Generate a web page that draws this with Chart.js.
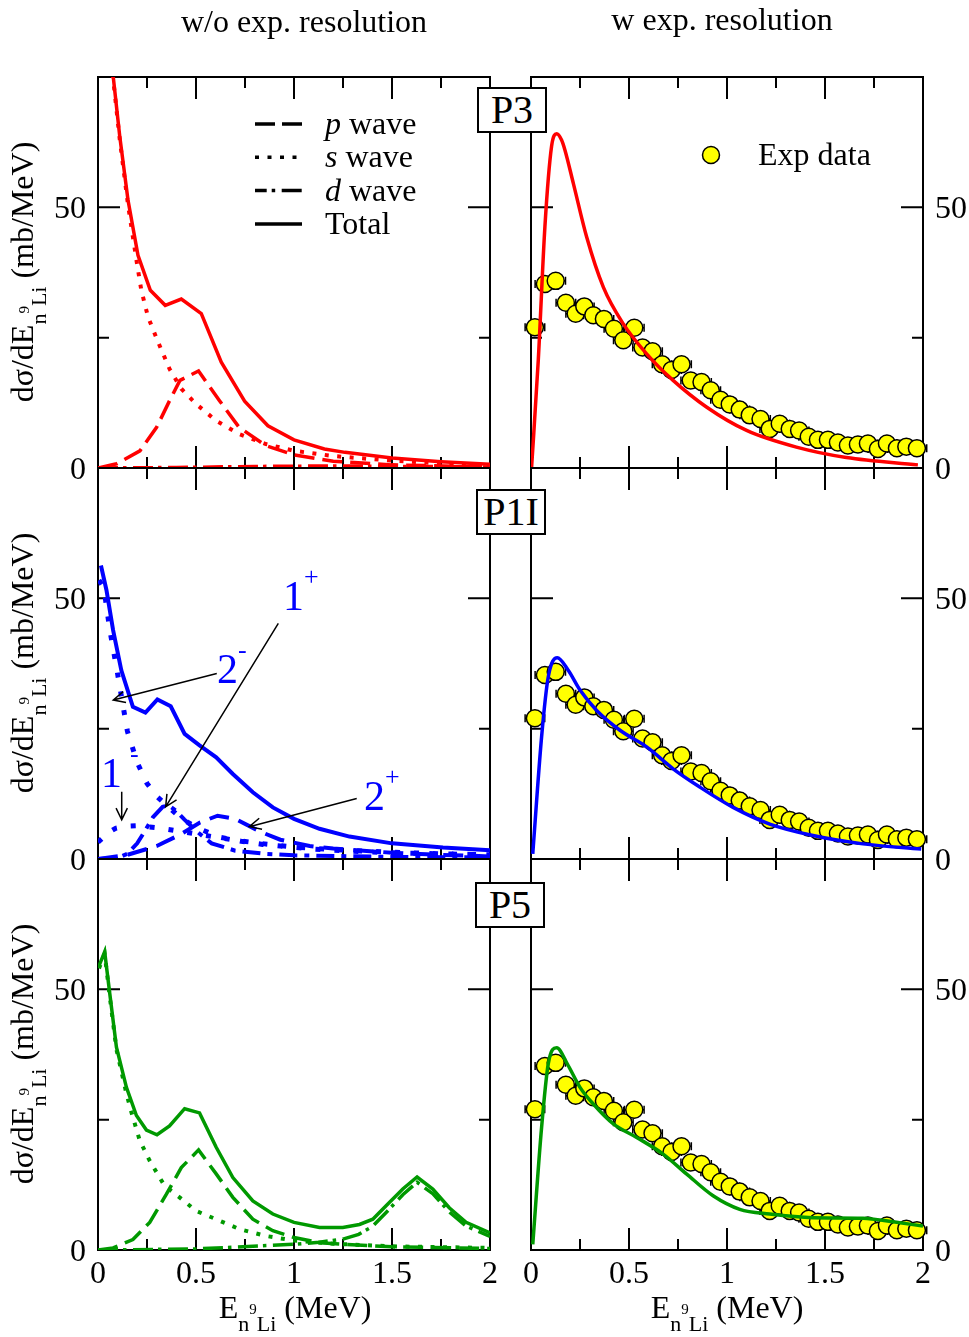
<!DOCTYPE html>
<html>
<head>
<meta charset="utf-8">
<title>n-9Li relative energy spectra</title>
<script src="https://cdn.jsdelivr.net/npm/chart.js@4.4.1/dist/chart.umd.min.js"></script>
<style>
  body { margin: 0; width: 969px; height: 1337px; background: #fff; position: relative; overflow: hidden; font-family: "Liberation Serif", "DejaVu Serif", serif; }
  canvas { position: absolute; z-index: 1; }
  .lab { position: absolute; z-index: 2; white-space: nowrap; line-height: 1; color: #000; }
  .head { font-size: 32px; transform: translateX(-50%); }
  .xtitle { font-size: 32px; transform: translateX(-50%); }
  .ytitle { font-size: 32px; transform: translate(-50%, -50%) rotate(-90deg); }
  .sb { font-size: 22px; position: relative; top: 13px; }
  .sp { font-size: 15px; position: relative; top: -17px; }
  .box { position: absolute; z-index: 3; box-sizing: border-box; border: 2px solid #000; background: #fff; font-size: 40px; line-height: 42px; text-align: center; }
  .state { font-size: 42px; color: #0000ff; }
  .state span { font-size: 26px; position: relative; top: -25px; }
</style>
</head>
<body>

<div class="lab head" style="left:304px;top:5px">w/o exp. resolution</div>
<div class="lab head" style="left:722px;top:3px">w exp. resolution</div>

<div class="lab ytitle" style="left:22px;top:272px">dσ/dE<span class="sb">n<span class="sp">9</span>Li</span> (mb/MeV)</div>
<div class="lab ytitle" style="left:22px;top:663px">dσ/dE<span class="sb">n<span class="sp">9</span>Li</span> (mb/MeV)</div>
<div class="lab ytitle" style="left:22px;top:1054px">dσ/dE<span class="sb">n<span class="sp">9</span>Li</span> (mb/MeV)</div>

<div class="lab xtitle" style="left:295px;top:1291px">E<span class="sb">n<span class="sp">9</span>Li</span> (MeV)</div>
<div class="lab xtitle" style="left:727px;top:1291px">E<span class="sb">n<span class="sp">9</span>Li</span> (MeV)</div>

<div class="box" style="left:477px;top:87px;width:70px;height:46px">P3</div>
<div class="box" style="left:476px;top:489px;width:70px;height:46px">P1I</div>
<div class="box" style="left:475px;top:882px;width:70px;height:46px">P5</div>

<div class="lab state" style="left:283px;top:575px">1<span>+</span></div>
<div class="lab state" style="left:217px;top:648px">2<span>-</span></div>
<div class="lab state" style="left:101px;top:752px">1<span style="margin-left:8px">-</span></div>
<div class="lab state" style="left:364px;top:775px">2<span>+</span></div>

<script>
var xMajor = [0, 0.5, 1, 1.5, 2];
var xMinor = [0.25, 0.75, 1.25, 1.75];
var xTickText = ["0", "0.5", "1", "1.5", "2"];
var yMajor = [0, 50];
var yMinor = [25];
var yTickText = ["0", "50"];

// P3, without experimental resolution
var p3TotX = [0.04, 0.111, 0.153, 0.204, 0.267, 0.343, 0.425, 0.527, 0.629, 0.748, 0.867, 1.0, 1.155, 1.26, 1.5, 1.75, 2.0];
var p3TotY = [88, 63.6, 51.4, 40.8, 34.1, 31.2, 32.4, 29.6, 20.3, 12.8, 8.1, 5.4, 3.65, 3.0, 1.9, 1.2, 0.7];
var p3SX = [0.04, 0.111, 0.153, 0.196, 0.221, 0.255, 0.306, 0.365, 0.425, 0.5, 0.602, 0.72, 0.856, 1.0, 1.2, 1.5, 1.75, 2.0];
var p3SY = [87.5, 63, 50.5, 39.9, 34.1, 29, 24.2, 19, 15.2, 12.3, 9.1, 6.5, 4.6, 3.3, 2.3, 1.4, 0.9, 0.5];
var p3PX = [0, 0.095, 0.214, 0.299, 0.365, 0.418, 0.513, 0.62, 0.72, 0.856, 1.0, 1.2, 1.5, 2.0];
var p3PY = [0, 0.8, 3.3, 7.8, 12.9, 16.8, 18.6, 12.9, 7.8, 4.3, 2.5, 1.3, 0.6, 0.2];
var p3DX = [0, 0.4, 0.8, 1.2, 1.6, 2.0];
var p3DY = [0, 0.1, 0.3, 0.4, 0.3, 0.2];

// P1I, without experimental resolution
var p1TotX = [0.015, 0.043, 0.077, 0.119, 0.178, 0.242, 0.303, 0.371, 0.442, 0.518, 0.603, 0.688, 0.79, 0.892, 1.0, 1.13, 1.283, 1.5, 1.76, 2.0];
var p1TotY = [56.3, 51.6, 43.9, 36.2, 29.2, 28.1, 30.6, 29.3, 24.0, 21.8, 19.5, 16.3, 12.8, 9.9, 7.7, 5.8, 4.3, 3.0, 2.2, 1.7];
var p1TwoMinX = [0.005, 0.03, 0.06, 0.1, 0.15, 0.2, 0.25, 0.3, 0.35, 0.43, 0.53, 0.62, 0.73, 0.84, 0.95, 1.1, 1.3, 1.5, 1.75, 2.0];
var p1TwoMinY = [53.5, 52, 44, 35.5, 24.5, 18.5, 14.5, 12, 10.3, 7.6, 5.6, 4.2, 3.4, 2.8, 2.4, 1.9, 1.5, 1.2, 1.0, 0.8];
var p1OneMinX = [0, 0.05, 0.09, 0.14, 0.2, 0.3, 0.42, 0.55, 0.7, 0.85, 1.0, 1.2, 1.5, 1.75, 2.0];
var p1OneMinY = [3.2, 5.0, 5.9, 6.3, 6.4, 6.0, 5.3, 4.5, 3.6, 2.9, 2.3, 1.8, 1.3, 1.0, 0.8];
var p1OnePlX = [0, 0.1, 0.15, 0.2, 0.24, 0.28, 0.33, 0.36, 0.4, 0.44, 0.51, 0.58, 0.7, 0.85, 1.0, 1.5, 2.0];
var p1OnePlY = [0, 0.2, 1.0, 3.0, 5.4, 8.0, 10.0, 10.3, 9.2, 7.6, 5.1, 3.0, 1.6, 1.0, 0.7, 0.4, 0.3];
var p1TwoPlX = [0, 0.15, 0.3, 0.42, 0.52, 0.61, 0.7, 0.83, 0.93, 1.08, 1.2, 1.5, 1.75, 2.0];
var p1TwoPlY = [0, 0.8, 2.5, 4.7, 7.0, 8.3, 7.7, 5.2, 3.7, 2.5, 2.0, 1.2, 0.8, 0.5];

// P5, without experimental resolution
var p5TotX = [0.005, 0.034, 0.06, 0.094, 0.145, 0.196, 0.247, 0.301, 0.365, 0.442, 0.518, 0.603, 0.688, 0.79, 0.892, 1.0, 1.13, 1.249, 1.334, 1.402, 1.47, 1.555, 1.628, 1.708, 1.792, 1.878, 2.0];
var p5TotY = [54.5, 57.2, 49.2, 38.9, 31.2, 25.8, 23.0, 22.1, 23.8, 27.1, 26.3, 19.7, 13.9, 9.4, 6.9, 5.3, 4.3, 4.3, 4.9, 5.9, 8.5, 11.7, 14.0, 11.7, 8.1, 5.3, 3.3];
var p5SX = [0.005, 0.034, 0.06, 0.094, 0.145, 0.17, 0.213, 0.264, 0.34, 0.416, 0.5, 0.603, 0.722, 0.856, 1.0, 1.2, 1.5, 2.0];
var p5SY = [54, 56.8, 48.6, 38.5, 30, 26.5, 21, 17.1, 12.3, 10.1, 7.5, 5.9, 4.0, 2.7, 1.8, 1.2, 0.7, 0.4];
var p5PX = [0, 0.077, 0.178, 0.264, 0.349, 0.425, 0.513, 0.603, 0.688, 0.79, 0.892, 1.0, 1.13, 1.25, 1.5, 2.0];
var p5PY = [0, 0.4, 2.0, 5.3, 10.7, 15.8, 19.2, 14.6, 10.1, 5.9, 3.7, 2.4, 1.4, 1.1, 0.6, 0.3];
var p5DX = [0, 0.5, 1.0, 1.13, 1.25, 1.33, 1.4, 1.47, 1.555, 1.628, 1.708, 1.792, 1.878, 2.0];
var p5DY = [0, 0.2, 1.1, 1.5, 2.1, 3.0, 4.5, 7.2, 10.6, 13.0, 10.8, 7.3, 4.6, 2.6];

// folded with experimental resolution
var p3ResX = [0.003, 0.037, 0.071, 0.105, 0.131, 0.156, 0.173, 0.216, 0.284, 0.369, 0.47, 0.59, 0.725, 0.895, 1.1, 1.354, 1.609, 1.974];
var p3ResY = [0.1, 20.6, 46.3, 61.7, 64.1, 62.9, 61, 54.6, 44.3, 34.7, 27.7, 21.9, 16.8, 11.7, 7.2, 4.0, 2.0, 0.6];
var p1ResX = [0.009, 0.054, 0.088, 0.134, 0.19, 0.25, 0.335, 0.454, 0.59, 0.725, 0.861, 1.031, 1.218, 1.439, 1.694, 1.991];
var p1ResY = [1.0, 23.4, 34.9, 38.6, 36.2, 32.4, 28.5, 24.7, 21.5, 17.3, 13.8, 9.9, 6.7, 4.5, 2.9, 1.9];
var p5ResX = [0.009, 0.054, 0.088, 0.131, 0.185, 0.25, 0.318, 0.42, 0.539, 0.674, 0.793, 0.929, 1.065, 1.218, 1.439, 1.694, 1.847, 2.0];
var p5ResY = [1.1, 23.5, 35.7, 38.8, 35.7, 31.2, 28.0, 24.2, 21.6, 18.4, 14.6, 10.4, 7.8, 6.9, 6.2, 6.1, 5.4, 4.6];

// experimental data
var expX = [0.02, 0.071, 0.126, 0.178, 0.228, 0.272, 0.318, 0.372, 0.423, 0.471, 0.527, 0.569, 0.62, 0.669, 0.717, 0.768, 0.815, 0.87, 0.917, 0.967,
            1.014, 1.065, 1.116, 1.171, 1.218, 1.269, 1.32, 1.368, 1.417, 1.464, 1.515, 1.566, 1.617, 1.668, 1.719, 1.77, 1.816, 1.867, 1.915, 1.969];
var expY = [27.0, 35.3, 35.9, 31.7, 29.6, 31.0, 29.3, 28.6, 26.7, 24.5, 26.9, 23.1, 22.4, 19.9, 18.8, 19.9, 16.8, 16.5, 14.9, 13.1,
            12.2, 11.2, 10.1, 9.4, 7.5, 8.5, 7.5, 7.2, 6.0, 5.4, 5.4, 4.9, 4.3, 4.5, 4.7, 3.65, 4.7, 3.8, 4.1, 3.8];
var expXErr = 0.05;

var RED = "#ff0000", BLUE = "#0000ff", GREEN = "#009900";
var DASH = [20, 8], DOT = [4, 8.5], DASHDOT = [20, 5, 3.5, 6.5];
var M = 60;

function pts(xs, ys) {
  return xs.map(function (x, i) { return { x: x, y: ys[i] }; });
}

function curve(xs, ys, color, width, dash, smooth) {
  return {
    data: pts(xs, ys), showLine: true, fill: false,
    borderColor: color, borderWidth: width, borderDash: dash || [],
    pointRadius: 0, tension: 0,
    cubicInterpolationMode: smooth ? "monotone" : "default"
  };
}

function expSet() {
  return {
    data: pts(expX, expY), showLine: false, clip: false,
    pointRadius: 8.5, pointBackgroundColor: "#ffff00",
    pointBorderColor: "#000", pointBorderWidth: 1.5
  };
}

var panelPlugin = {
  id: "panel",
  beforeDatasetsDraw: function (chart, args, o) {
    var ctx = chart.ctx, a = chart.chartArea, sx = chart.scales.x, sy = chart.scales.y;
    ctx.save();
    ctx.strokeStyle = "#000";
    ctx.lineWidth = 2;
    ctx.beginPath();
    xMajor.concat(xMinor).forEach(function (v, i) {
      var len = i < xMajor.length ? 22 : 11, px = sx.getPixelForValue(v);
      ctx.moveTo(px, a.bottom); ctx.lineTo(px, a.bottom - len);
      ctx.moveTo(px, a.top); ctx.lineTo(px, a.top + len);
    });
    yMajor.concat(yMinor).forEach(function (v, i) {
      var len = i < yMajor.length ? 22 : 11, py = sy.getPixelForValue(v);
      ctx.moveTo(a.left, py); ctx.lineTo(a.left + len, py);
      ctx.moveTo(a.right, py); ctx.lineTo(a.right - len, py);
    });
    ctx.stroke();
    ctx.strokeRect(a.left, a.top, a.right - a.left, a.bottom - a.top);

    ctx.fillStyle = "#000";
    ctx.font = '32px "Liberation Serif"';
    ctx.textBaseline = "alphabetic";
    ctx.textAlign = o.yLabels === "left" ? "right" : "left";
    yMajor.forEach(function (v, i) {
      var lx = o.yLabels === "left" ? a.left - 12 : a.right + 12;
      ctx.fillText(yTickText[i], lx, sy.getPixelForValue(v) + 11);
    });
    if (o.xLabels) {
      ctx.textAlign = "center";
      xMajor.forEach(function (v, i) {
        ctx.fillText(xTickText[i], sx.getPixelForValue(v), a.bottom + 33);
      });
    }

    if (o.errors) {
      ctx.lineWidth = 1.5;
      ctx.beginPath();
      expX.forEach(function (x, i) {
        var x0 = sx.getPixelForValue(x - expXErr), x1 = sx.getPixelForValue(x + expXErr);
        var py = sy.getPixelForValue(expY[i]);
        ctx.moveTo(x0, py); ctx.lineTo(x1, py);
        ctx.moveTo(x0, py - 4); ctx.lineTo(x0, py + 4);
        ctx.moveTo(x1, py - 4); ctx.lineTo(x1, py + 4);
      });
      ctx.stroke();
    }
    ctx.restore();
  },
  afterDatasetsDraw: function (chart, args, o) {
    var ctx = chart.ctx, a = chart.chartArea, sx = chart.scales.x, sy = chart.scales.y;
    ctx.save();
    if (o.legend) {
      o.legend.forEach(function (item, i) {
        var y = a.top + 47 + i * 33.3;
        ctx.strokeStyle = "#000";
        ctx.lineWidth = 3.5;
        ctx.setLineDash(item.dash);
        ctx.lineDashOffset = item.offset || 0;
        ctx.beginPath();
        ctx.moveTo(a.left + 157, y); ctx.lineTo(a.left + 204, y);
        ctx.stroke();
        ctx.setLineDash([]);
        ctx.fillStyle = "#000";
        ctx.textAlign = "left";
        ctx.textBaseline = "alphabetic";
        var tx = a.left + 227;
        if (item.italic) {
          ctx.font = 'italic 32px "Liberation Serif"';
          ctx.fillText(item.italic, tx, y + 10);
          tx += ctx.measureText(item.italic).width;
        }
        ctx.font = '32px "Liberation Serif"';
        ctx.fillText(item.text, tx, y + 10);
      });
    }
    if (o.expLegend) {
      ctx.beginPath();
      ctx.arc(a.left + 180, a.top + 78, 8.5, 0, Math.PI * 2);
      ctx.fillStyle = "#ffff00";
      ctx.fill();
      ctx.lineWidth = 1.5;
      ctx.strokeStyle = "#000";
      ctx.stroke();
      ctx.fillStyle = "#000";
      ctx.font = '32px "Liberation Serif"';
      ctx.textAlign = "left";
      ctx.fillText("Exp data", a.left + 227, a.top + 88);
    }
    if (o.arrows) {
      ctx.strokeStyle = "#000";
      ctx.lineWidth = 1.5;
      o.arrows.forEach(function (ar) {
        var x1 = sx.getPixelForValue(ar[0]), y1 = sy.getPixelForValue(ar[1]);
        var x2 = sx.getPixelForValue(ar[2]), y2 = sy.getPixelForValue(ar[3]);
        var ang = Math.atan2(y2 - y1, x2 - x1);
        ctx.beginPath();
        ctx.moveTo(x1, y1); ctx.lineTo(x2, y2);
        ctx.moveTo(x2 - 13 * Math.cos(ang - 0.45), y2 - 13 * Math.sin(ang - 0.45));
        ctx.lineTo(x2, y2);
        ctx.lineTo(x2 - 13 * Math.cos(ang + 0.45), y2 - 13 * Math.sin(ang + 0.45));
        ctx.stroke();
      });
    }
    ctx.restore();
  }
};

function addPanel(left, top, datasets, opts) {
  var c = document.createElement("canvas");
  c.width = 392 + 2 * M;
  c.height = 391 + 2 * M;
  c.style.left = (left - M) + "px";
  c.style.top = (top - M) + "px";
  document.body.appendChild(c);
  return new Chart(c, {
    type: "scatter",
    data: { datasets: datasets },
    options: {
      responsive: false,
      animation: false,
      events: [],
      layout: { padding: M },
      scales: {
        x: { type: "linear", min: 0, max: 2, display: false },
        y: { type: "linear", min: 0, max: 75, display: false }
      },
      plugins: { legend: { display: false }, tooltip: { enabled: false }, panel: opts }
    },
    plugins: [panelPlugin]
  });
}

// left column
addPanel(98, 77, [
  curve(p3TotX, p3TotY, RED, 3.5),
  curve(p3PX, p3PY, RED, 3.5, DASH),
  curve(p3SX, p3SY, RED, 4, DOT),
  curve(p3DX, p3DY, RED, 3.5, DASHDOT)
], {
  yLabels: "left",
  legend: [
    { italic: "p", text: " wave", dash: [20, 7] },
    { italic: "s", text: " wave", dash: [4, 8.5] },
    { italic: "d", text: " wave", dash: DASHDOT, offset: 8.3 },
    { text: "Total", dash: [] }
  ]
});

addPanel(98, 468, [
  curve(p1TotX, p1TotY, BLUE, 4),
  curve(p1TwoPlX, p1TwoPlY, BLUE, 4, [20, 10]),
  curve(p1OnePlX, p1OnePlY, BLUE, 4, [18, 7, 5, 7]),
  curve(p1TwoMinX, p1TwoMinY, BLUE, 5, [5, 14]),
  curve(p1OneMinX, p1OneMinY, BLUE, 5, [5, 14])
], {
  yLabels: "left",
  arrows: [
    [0.606, 35.6, 0.078, 30.5],
    [0.92, 45.2, 0.345, 10.0],
    [1.32, 11.6, 0.772, 6.2],
    [0.121, 12.9, 0.121, 7.5]
  ]
});

addPanel(98, 859, [
  curve(p5TotX, p5TotY, GREEN, 3.5),
  curve(p5PX, p5PY, GREEN, 3.5, DASH),
  curve(p5SX, p5SY, GREEN, 4, DOT),
  curve(p5DX, p5DY, GREEN, 3.5, DASHDOT)
], { yLabels: "left", xLabels: true });

// right column
addPanel(531, 77, [curve(p3ResX, p3ResY, RED, 3.5, null, true), expSet()],
  { yLabels: "right", errors: true, expLegend: true });
addPanel(531, 468, [curve(p1ResX, p1ResY, BLUE, 3.5, null, true), expSet()],
  { yLabels: "right", errors: true });
addPanel(531, 859, [curve(p5ResX, p5ResY, GREEN, 3.5, null, true), expSet()],
  { yLabels: "right", errors: true, xLabels: true });
</script>
</body>
</html>
